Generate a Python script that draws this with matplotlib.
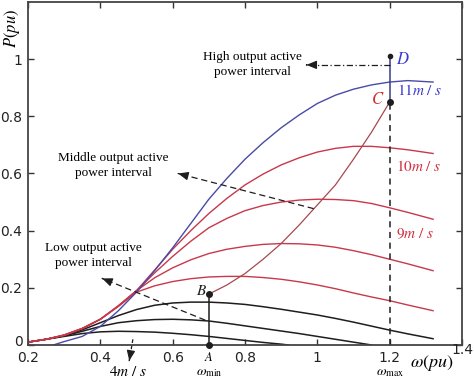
import matplotlib
matplotlib.use("Agg")
import matplotlib.pyplot as plt
from matplotlib.transforms import ScaledTranslation

plt.rcParams['mathtext.fontset'] = 'stix'

# ---- data ----
w_std = [0.2, 0.25, 0.3, 0.35, 0.4, 0.45, 0.5, 0.55, 0.6, 0.65, 0.7, 0.75,
         0.8, 0.85, 0.9, 0.95, 1.0, 1.05, 1.1, 1.15, 1.2, 1.25, 1.32]

w_4 = [0.2, 0.25, 0.3, 0.35, 0.4, 0.45, 0.5, 0.55, 0.6, 0.65, 0.7, 0.75, 0.8, 0.85, 0.9, 0.92]
p_4 = [0.01, 0.02, 0.03, 0.04, 0.046, 0.048, 0.047, 0.045, 0.041, 0.036, 0.03, 0.023,
       0.016, 0.009, 0.003, 0.0]

w_5 = [0.2, 0.25, 0.3, 0.35, 0.4, 0.45, 0.5, 0.55, 0.6, 0.65, 0.7, 0.75, 0.8, 0.85,
       0.9, 0.95, 1.0, 1.05, 1.1, 1.15]
p_5 = [0.01, 0.02, 0.032, 0.048, 0.065, 0.078, 0.085, 0.089, 0.09, 0.088, 0.084, 0.076,
       0.067, 0.058, 0.049, 0.04, 0.03, 0.02, 0.01, 0.0]

p_6 = [0.01, 0.02, 0.033, 0.053, 0.078, 0.103, 0.124, 0.139, 0.147, 0.15, 0.15, 0.147,
       0.142, 0.134, 0.125, 0.115, 0.105, 0.093, 0.08, 0.066, 0.052, 0.039, 0.022]
p_7 = [0.01, 0.02, 0.035, 0.058, 0.09, 0.135, 0.185, 0.207, 0.222, 0.232, 0.238, 0.24,
       0.24, 0.236, 0.23, 0.221, 0.21, 0.197, 0.182, 0.168, 0.155, 0.14, 0.12]
p_8 = [0.01, 0.02, 0.035, 0.058, 0.09, 0.137, 0.19, 0.235, 0.27, 0.298, 0.32, 0.335,
       0.345, 0.352, 0.355, 0.354, 0.35, 0.342, 0.33, 0.316, 0.30, 0.284, 0.26]
p_9 = [0.01, 0.02, 0.035, 0.058, 0.09, 0.137, 0.19, 0.252, 0.31, 0.363, 0.41, 0.443,
       0.47, 0.488, 0.50, 0.507, 0.51, 0.509, 0.505, 0.495, 0.48, 0.464, 0.44]
p_10 = [0.01, 0.02, 0.033, 0.057, 0.09, 0.137, 0.19, 0.262, 0.335, 0.40, 0.46, 0.513,
        0.56, 0.598, 0.63, 0.655, 0.675, 0.688, 0.695, 0.695, 0.69, 0.683, 0.67]

w_11 = [0.27, 0.3, 0.35, 0.4, 0.45, 0.5, 0.55, 0.6, 0.65, 0.7, 0.75, 0.8, 0.85, 0.9,
        0.95, 1.0, 1.05, 1.1, 1.15, 1.2, 1.25, 1.32]
p_11 = [0.0, 0.012, 0.03, 0.065, 0.12, 0.185, 0.26, 0.34, 0.425, 0.51, 0.583, 0.65,
        0.708, 0.76, 0.805, 0.845, 0.874, 0.895, 0.91, 0.92, 0.925, 0.92]

w_mppt = [0.7, 0.75, 0.8, 0.85, 0.9, 0.95, 1.0, 1.05, 1.1, 1.15, 1.2]
p_mppt = [0.178, 0.21, 0.25, 0.30, 0.355, 0.42, 0.49, 0.56, 0.65, 0.745, 0.85]

w_min, w_max = 0.7, 1.2
p_A, p_B, p_C, p_D = 0.0, 0.178, 0.85, 1.01

xticks = [0.2, 0.4, 0.6, 0.8, 1.0, 1.2, 1.4]
xticklabels = ['0.2', '0.4', '0.6', '0.8', '1', '1.2', '']
yticks = [0, 0.2, 0.4, 0.6, 0.8, 1.0]
yticklabels = ['0', '0.2', '0.4', '0.6', '0.8', '1']

# ---- styling ----
BLACK = '#1e1e1e'
RED = '#c8384a'
BLUE = '#4a4aa8'
MPPT = '#a84850'
serif = 'Liberation Serif'

fig = plt.figure(figsize=(4.74, 3.8), dpi=100)
ax = fig.add_axes([28/474, 1-345/380, (462-28)/474, (345-2)/380])

for w, p in [(w_4, p_4), (w_5, p_5), (w_std, p_6)]:
    ax.plot(w, p, color=BLACK, lw=1.1)
for p in [p_7, p_8, p_9, p_10]:
    ax.plot(w_std, p, color=RED, lw=1.0)
ax.plot(w_11, p_11, color=BLUE, lw=1.0)
ax.plot(w_mppt, p_mppt, color=MPPT, lw=0.9)

# vertical lines
ax.plot([w_min, w_min], [p_A, p_B], color=BLACK, lw=1.1)
ax.plot([w_max, w_max], [0, p_C], color=BLACK, lw=1.1, ls=(0, (4, 3)))
ax.plot([w_max, w_max], [p_C, p_D], color='#3a3a8a', lw=1.1)
ax.plot([w_min, w_min, w_max], [p_A, p_B, p_C], 'o', color=BLACK, ms=4, clip_on=False, zorder=5)
ax.plot([w_max], [p_D], 'o', color=BLACK, ms=3, zorder=5)

ax.set_xlim(0.2, 1.4)
ax.set_ylim(0, 1.2)
ax.set_xticks(xticks)
ax.set_xticklabels(xticklabels)
ax.set_yticks(yticks)
ax.set_yticklabels(yticklabels)
ax.tick_params(direction='in', length=4, width=1, top=True, right=True,
               labelsize=10, colors='#333333')
ax.tick_params(axis='x', pad=4)
ax.tick_params(axis='y', pad=4)
for lab in ax.get_xticklabels() + ax.get_yticklabels():
    lab.set_color('#222222')
# the "0" of the y axis sits slightly higher, as in the reference
ylab0 = ax.get_yticklabels()[0]
ylab0.set_transform(ylab0.get_transform() + ScaledTranslation(0, 3/72, fig.dpi_scale_trans))
for s in ax.spines.values():
    s.set_linewidth(1.3)
    s.set_color('#444444')

# raised "1.4" label as in the reference
ax.text(1.4, -0.017, '1.4', ha='center', va='center', fontsize=10, color='#222222',
        clip_on=False)

# labels
fig.text(12/474, 1-28/380, r'$P(pu)$', rotation=90, ha='center', va='center', fontsize=12)
ax.text(1.317, -0.062, r'$\omega(pu)$', ha='center', va='center', fontsize=13, clip_on=False)
ax.text(w_min, -0.045, r'$A$', ha='center', va='center', fontsize=9, clip_on=False)
ax.text(w_min, -0.096, r'$\omega_{\rm min}$', ha='center', va='center', fontsize=10, clip_on=False)
ax.text(w_max, -0.096, r'$\omega_{\rm max}$', ha='center', va='center', fontsize=10, clip_on=False)
ax.text(0.68, 0.19, r'$B$', ha='center', va='center', fontsize=11, color=BLACK)
ax.text(1.168, 0.86, r'$C$', ha='center', va='center', fontsize=12, color='#d03030')
ax.text(1.237, 1.0, r'$D$', ha='center', va='center', fontsize=12, color='#3a3ad0')
ax.text(1.284, 0.89, r'$11m\ /\ s$', ha='center', va='center', fontsize=11, color='#3a3ad0')
ax.text(1.28, 0.625, r'$10m\ /\ s$', ha='center', va='center', fontsize=11, color='#d03040')
ax.text(1.27, 0.39, r'$9m\ /\ s$', ha='center', va='center', fontsize=11, color='#d03040')
ax.text(0.477, -0.093, r'$4m\ /\ s$', ha='center', va='center', fontsize=11, clip_on=False)

ax.text(0.82, 0.98, 'High output active\npower interval', ha='center', va='center',
        fontsize=9.5, family=serif, linespacing=1.35)
ax.text(0.435, 0.627, 'Middle output active\npower interval', ha='center', va='center',
        fontsize=9.5, family=serif, linespacing=1.35)
ax.text(0.38, 0.313, 'Low output active\npower interval', ha='center', va='center',
        fontsize=9.5, family=serif, linespacing=1.35)

def dashed_arrow(x0, y0, x1, y1, ls):
    ax.plot([x0, x1], [y0, y1], color=BLACK, lw=0.9, ls=ls, clip_on=False)
    fx = x1 + (x0 - x1) * 0.0001
    fy = y1 + (y0 - y1) * 0.0001
    ax.annotate('', xy=(x1, y1), xytext=(fx, fy), annotation_clip=False,
                arrowprops=dict(arrowstyle='-|>,head_length=0.6,head_width=0.25',
                                color=BLACK, lw=0.9, shrinkA=0, shrinkB=0))

dashed_arrow(1.2, 0.98, 0.97, 0.98, (0, (5, 2, 1, 2)))
dashed_arrow(0.99, 0.477, 0.615, 0.60, (0, (5, 3)))
dashed_arrow(0.69, 0.087, 0.405, 0.233, (0, (5, 3)))
dashed_arrow(0.49, 0.02, 0.48, -0.055, (0, (3, 2)))

fig.savefig('out.png', dpi=100)
